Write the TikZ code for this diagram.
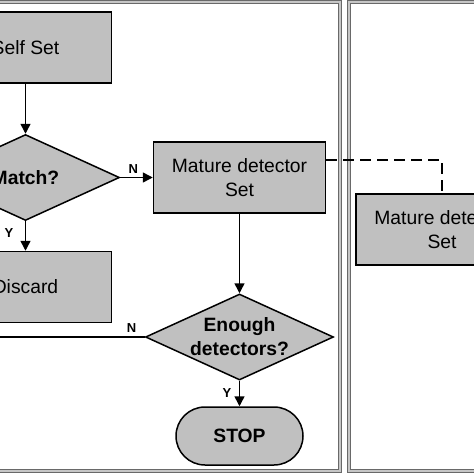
\documentclass[tikz,border=0pt]{standalone}
\usepackage{fontspec}
\setmainfont{Liberation Sans}
\usetikzlibrary{shapes.geometric,arrows.meta}
\definecolor{boxgray}{RGB}{192,192,192}
\definecolor{panelgray}{RGB}{105,105,105}
\begin{document}
\begin{tikzpicture}[x=1pt,y=-1pt,
        box/.style={draw, fill=boxgray, line width=1.5pt, minimum width=172pt, minimum height=71pt, inner sep=0pt, align=center, font=\fontsize{19.3}{24}\selectfont},
        decision/.style={box, diamond, aspect=2.19, inner sep=-2pt, minimum width=188pt, minimum height=86pt, font=\fontsize{19.3}{24}\selectfont\bfseries},
        terminal/.style={box, rounded corners=29pt, minimum width=127pt, minimum height=58pt, font=\fontsize{19.3}{24}\selectfont\bfseries},
        flow/.style={line width=1.5pt, -{Triangle[length=10pt,width=10pt]}},
        yn/.style={font=\fontsize{13}{13}\selectfont\bfseries},
        panel/.style={draw=panelgray, line width=1pt, double=gray!45, double distance=1.2pt}]
        \useasboundingbox (0,0) rectangle (474,474);
        \clip (0,0) rectangle (474,474);
        % the two panels
        \draw[panel] (-20,2) rectangle (340,471);
        \draw[panel] (349,2) rectangle (500,471);
        % left panel
        \node[box] (self) at (25.5,47.5) {Self Set};
        \node[decision] (match) at (25.5,177.5) {Match?};
        \node[box] (mature) at (239.5,177.5) {Mature detector\\Set};
        \node[box] (discard) at (25.5,287) {Discard};
        \node[decision] (enough) at (239.5,337) {Enough\\detectors?};
        \node[terminal] (stop) at (239.5,436) {STOP};
        \coordinate (loopback) at (-20,337);
        % right panel
        \node[box] (remote) at (442,229.5) {Mature detector\\Set};
        \draw[flow] (self) -- (match);
        \draw[flow] (match) -- node[yn, above, pos=0.4]{N} (mature);
        \draw[flow] (match) -- node[yn, left=8pt, pos=0.4]{Y} (discard);
        \draw[flow] (mature) -- (enough);
        \draw[line width=1.5pt] (enough) -- node[yn, above, pos=0.08]{N} (loopback);
        \draw[flow] (enough) -- node[yn, left=4pt, pos=0.48]{Y} (stop);
        \draw[line width=1.5pt, dash pattern=on 11pt off 6pt] ([yshift=17.5pt]mature.east) -| (remote.north);
    \end{tikzpicture}
\end{document}
